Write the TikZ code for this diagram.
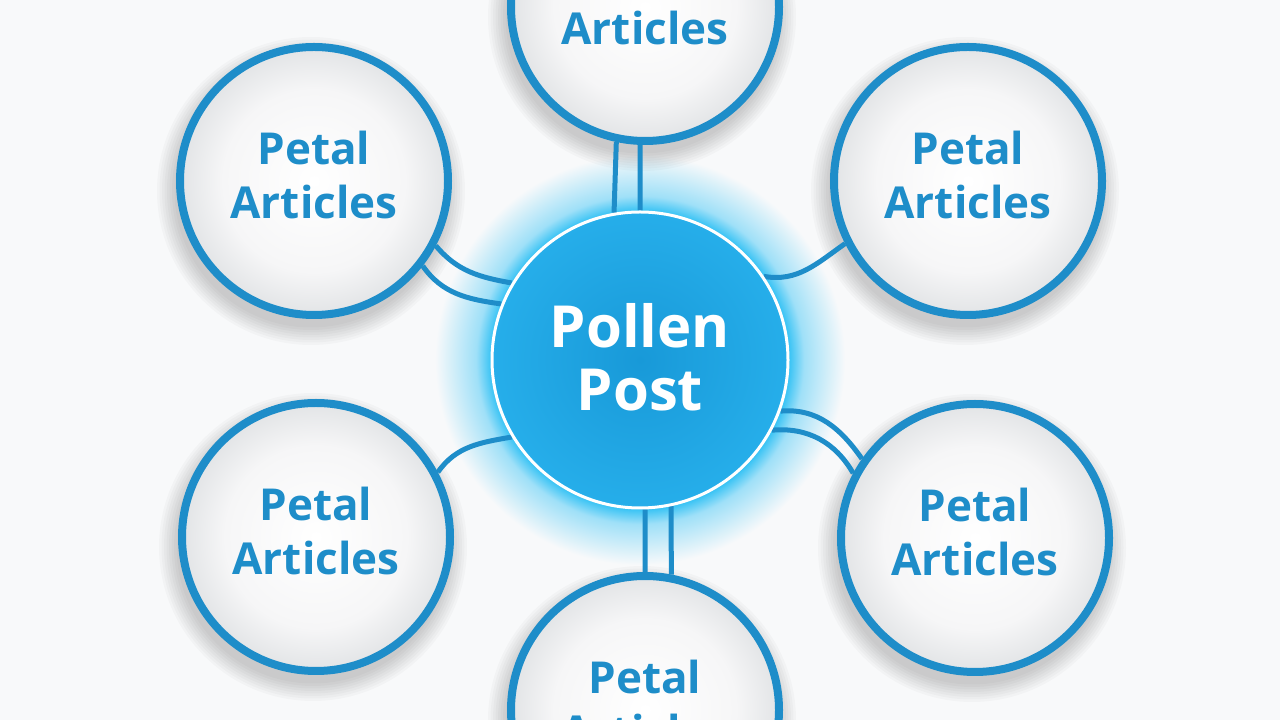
\documentclass[tikz,border=0pt]{standalone}
\usepackage{fontspec}
\setmainfont{Open Sans}
\usepackage{tikz}
\usetikzlibrary{positioning}
\usepackage{xcolor}

\definecolor{ringblue}{HTML}{1E8DC9}
\definecolor{glowcyan}{HTML}{2EC0F4}
\definecolor{glowsoft}{HTML}{9FE0F8}
\definecolor{hubdeep}{HTML}{1899D8}
\definecolor{hubedge}{HTML}{26AEEA}
\definecolor{paper}{HTML}{F8F9FA}
\definecolor{faceedge}{HTML}{E2E4E6}
\definecolor{facemid}{HTML}{F6F6F7}

\pgfdeclarelayer{back}
\pgfdeclarelayer{mid}
\pgfsetlayers{back,mid,main}

\pgfdeclareradialshading{hubglow}{\pgfpoint{0bp}{0bp}}{color(0bp)=(glowcyan); color(18bp)=(glowcyan); color(20bp)=(glowsoft); color(25bp)=(paper); color(50bp)=(paper)}
\pgfdeclareradialshading{petalface}{\pgfpoint{0bp}{0bp}}{color(0bp)=(white); color(17bp)=(facemid); color(25bp)=(faceedge); color(50bp)=(faceedge)}

\begin{document}
\begin{tikzpicture}[
    x = 1pt,
    y = 1pt,
    petal/.style={circle, draw=ringblue, line width=8pt, shade, shading=petalface,
        minimum size=268pt, inner sep=0pt, text=ringblue, align=center, text depth=12pt,
        font=\bfseries\fontsize{44}{54}\selectfont},
    hub/.style={circle, draw=white, line width=3pt, inner color=hubdeep, outer color=hubedge,
        minimum size=296pt, inner sep=0pt, text=white, align=center, text depth=6pt,
        font=\bfseries\fontsize{58}{63}\selectfont},
    link/.style={draw=ringblue, line width=5pt}
]
    \useasboundingbox (0,0) rectangle (1280,720);

    \node[hub] (hub) at (640,360) {Pollen\\Post};
    \node[petal] (ptop) at (645,713) {Petal\\Articles};
    \node[petal] (ptl) at (314,539) {Petal\\Articles};
    \node[petal] (ptr) at (968,539) {Petal\\Articles};
    \node[petal] (pbl) at (316,183) {Petal\\Articles};
    \node[petal] (pbr) at (975,182) {Petal\\Articles};
    \node[petal] (pbot) at (645,10) {Petal\\Articles};

    \begin{pgfonlayer}{back}
        \fill[paper] (0,0) rectangle (1280,720);
        \shade[shading=hubglow] (hub.center) circle (205);
        % soft shadow under each petal
        \foreach \p in {ptop,ptl,ptr,pbl,pbr,pbot}
            \foreach \k in {1,...,8}
                \fill[black, opacity=0.022] ([xshift=-3pt, yshift=-10pt]\p.center) circle (134+\k*2.5);
    \end{pgfonlayer}

    \begin{pgfonlayer}{mid}
    \path[link]
        (ptop.-102) edge (hub.100)
        (ptop.-92) edge (hub.90)
        (ptl.-28) edge[out=-50, in=170] (hub.149)
        (ptl.-38) edge[out=-55, in=172] (hub.158)
        (hub.34) edge[out=-10, in=215] (ptr.207)
        (pbl.28) edge[out=55, in=190] (hub.211)
        (hub.-20) edge[out=5, in=125] (pbr.145)
        (hub.-28) edge[out=5, in=120] (pbr.152)
        (hub.-88) edge (pbot.90)
        (hub.-78) edge (pbot.79);
    \end{pgfonlayer}
\end{tikzpicture}
\end{document}
